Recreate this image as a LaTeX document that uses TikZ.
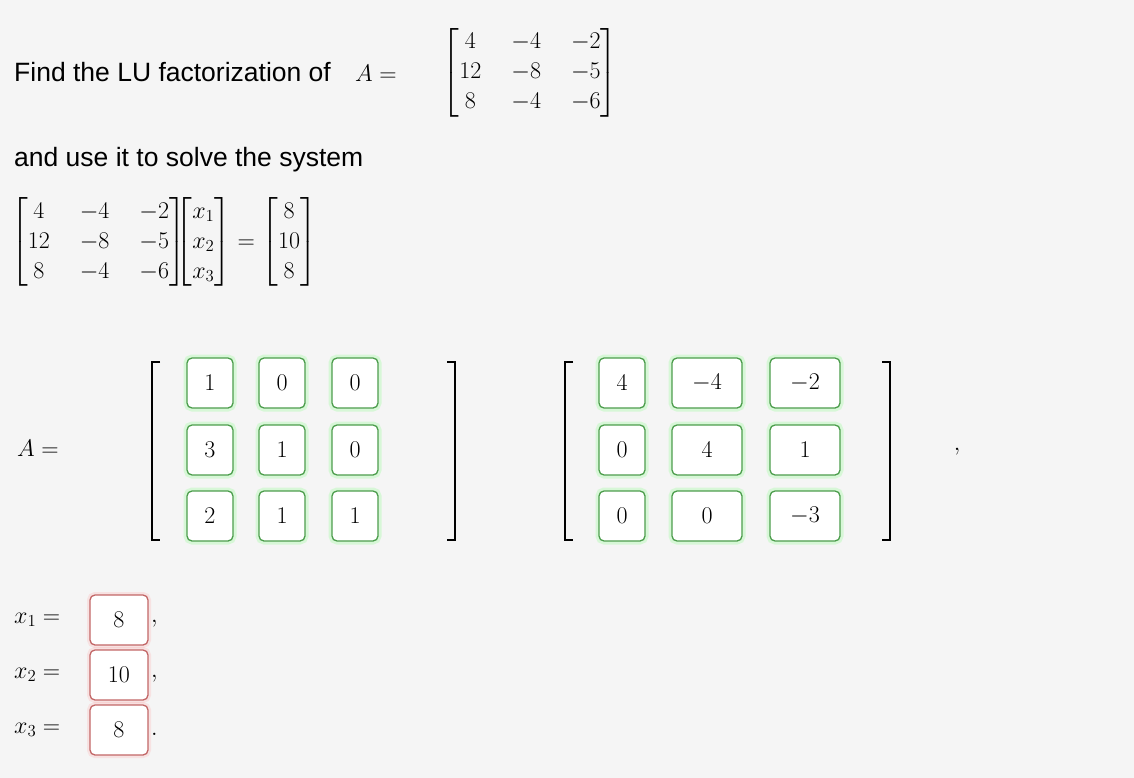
\RequirePackage{fix-cm}
\documentclass[tikz,border=0pt]{standalone}
\usepackage{amsmath}
\usepackage{fontspec}
\setsansfont{Liberation Sans}
\setlength{\arraycolsep}{15pt}
\begin{document}
\begin{tikzpicture}[x=1pt,y=-1pt,
  gbox/.style={draw=green!45!black!70,line width=1.3pt,rounded corners=5pt,fill=white,minimum height=50pt,font=\fontsize{24}{28}\selectfont,inner sep=0pt},
  rbox/.style={draw=red!60!black!60,line width=1.3pt,rounded corners=5pt,fill=white,minimum height=50pt,minimum width=58pt,font=\fontsize{24}{28}\selectfont,inner sep=0pt},
  txt/.style={font=\fontsize{24}{30}\selectfont,inner sep=0pt},
  stxt/.style={font=\fontsize{26.5}{30}\sffamily,inner sep=0pt,anchor=base west},
  brk/.style={line width=1.5pt}]
\fill[black!4] (0,0) rectangle (1134,778);
\useasboundingbox (0,0) rectangle (1134,778);
\node[stxt] (t1) at (14,82) {Find the LU factorization of};
\node[txt,anchor=base west] (eq1) at (355,82) {$A=$};
\node[txt] (m1) at (530,73) {$\begin{bmatrix}4&-4&-2\\12&-8&-5\\8&-4&-6\end{bmatrix}$};
\node[stxt] (t2) at (14,167) {and use it to solve the system};
\node[txt,anchor=west] (m2) at (11,242) {$\begin{bmatrix}4&-4&-2\\12&-8&-5\\8&-4&-6\end{bmatrix}\hspace{-14pt}\setlength{\arraycolsep}{5pt}\begin{bmatrix}x_1\\x_2\\x_3\end{bmatrix}=\begin{bmatrix}8\\10\\8\end{bmatrix}$};
\node[txt,anchor=west] (aeq) at (17,448) {$A=$};
\draw[brk] (160,362) -- (152,362) -- (152,540) -- (160,540);
\draw[brk] (447,362) -- (455,362) -- (455,540) -- (447,540);
\draw[brk] (573,362) -- (565,362) -- (565,540) -- (573,540);
\draw[brk] (882,362) -- (890,362) -- (890,540) -- (882,540);
\begin{scope}[every node/.append style={preaction={draw=green!50,line width=7pt,opacity=0.25}}]
\foreach \n/\x/\y/\v in {l11/210/383/1,l12/282/383/0,l13/355/383/0,l21/210/450/3,l22/282/450/1,l23/355/450/0,l31/210/516/2,l32/282/516/1,l33/355/516/1}
  \node[gbox,minimum width=46pt] (\n) at (\x,\y) {$\v$};
\foreach \n/\x/\y/\w/\v in {u11/622/383/46/4,u12/707/383/70/-4,u13/805/383/70/-2,u21/622/450/46/0,u22/707/450/70/4,u23/805/450/70/1,u31/622/516/46/0,u32/707/516/70/0,u33/805/516/70/-3}
  \node[gbox,minimum width=\w pt] (\n) at (\x,\y) {$\v$};
\end{scope}
\node[txt] (cm) at (957,452) {$,$};
\foreach \i/\y/\v in {1/620/8,2/675/10,3/730/8}{
  \node[txt,anchor=west] (x\i) at (14,\y) {$x_{\i}=$};
  \node[rbox,preaction={draw=red!40,line width=6pt,opacity=0.2}] (b\i) at (119,\y) {$\v$};
}
\node[txt,anchor=west] (p1) at (151,624) {$,$};
\node[txt,anchor=west] (p2) at (151,679) {$,$};
\node[txt,anchor=west] (p3) at (151,734) {$.$};
\end{tikzpicture}
\end{document}
